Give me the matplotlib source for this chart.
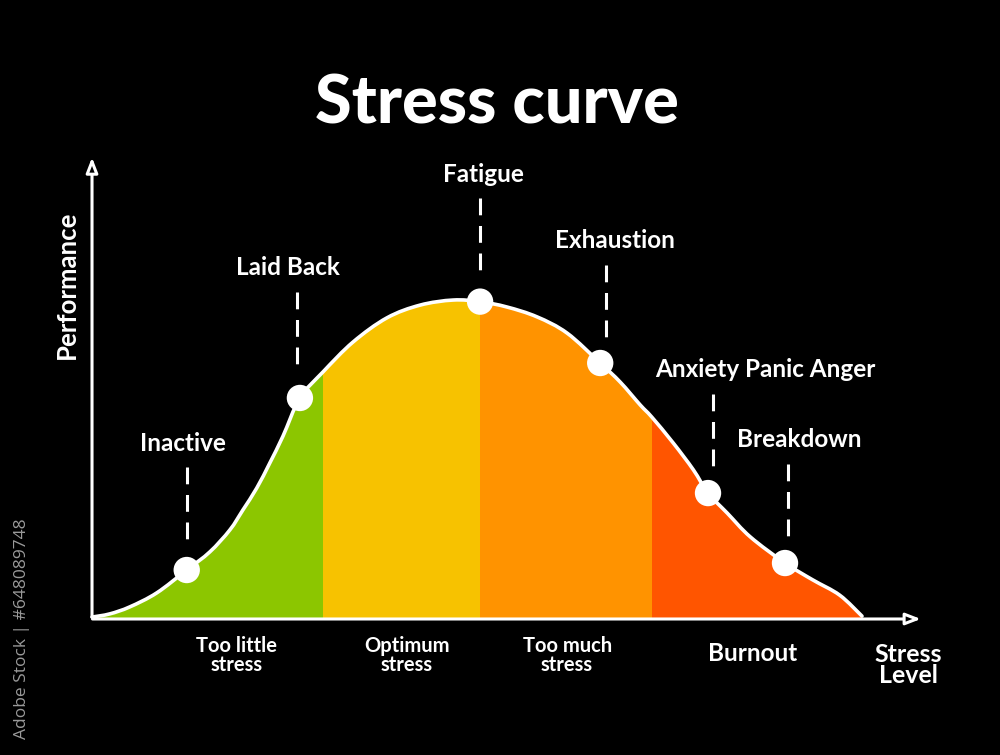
import matplotlib
matplotlib.use("Agg")
import matplotlib.pyplot as plt
from matplotlib.path import Path
from matplotlib.patches import PathPatch
import numpy as np

# ---- data ----
stress = [0, 2.3, 4.9, 8.4, 12.3, 15.3, 17.9, 19.6, 21.4, 23.1, 24.8, 27.0, 30.0,
          33.9, 38.3, 42.6, 46.9, 50.4, 53.9, 57.8, 61.7, 66.0, 68.6, 71.2, 72.7,
          75.5, 78.1, 80.0, 82.5, 85.5, 90.0, 93.6, 97.1, 100]
performance = [0.6, 1.6, 3.8, 8.2, 15.4, 21.1, 28.0, 34.3, 41.2, 49.1, 57.5, 69.5, 77.7,
               87.1, 94.7, 98.7, 100.3, 99.8, 98.1, 95.0, 89.9, 80.5, 74.5, 67.3, 63.5,
               55.3, 46.9, 39.6, 33.3, 25.8, 17.6, 12.3, 7.5, 0.9]

zone_edges = [0, 30.0, 50.4, 72.7, 100]
zone_colors = ["#8CC600", "#F7C200", "#FF9300", "#FF5500"]
zone_names = ["Too little\nstress", "Optimum\nstress", "Too much\nstress", "Burnout"]
zone_label_x = [18.8, 40.9, 61.7, 85.8]

point_names = ["Inactive", "Laid Back", "Fatigue", "Exhaustion",
               "Anxiety Panic Anger", "Breakdown"]
point_x = [12.3, 27.0, 50.4, 66.0, 80.0, 90.0]
point_y = [15.4, 69.5, 99.8, 80.5, 39.6, 17.6]
label_x = [11.8, 25.5, 50.8, 67.9, 87.4, 91.9]
label_y = [55.3, 110.4, 139.9, 118.9, 78.3, 56.3]
dash_x = [12.3, 26.6, 50.4, 66.8, 80.6, 90.4]

FONT = ["Lato", "DejaVu Sans"]
W = "white"


def smooth_curve(xs, ys):
    """Catmull-Rom style Bezier path through the given points."""
    p = np.column_stack([xs, ys]).astype(float)
    n = len(p)
    verts = [p[0]]
    codes = [Path.MOVETO]
    for i in range(n - 1):
        a = p[max(i - 1, 0)]
        d = p[min(i + 2, n - 1)]
        c1 = p[i] + (p[i + 1] - a) / 6.0
        c2 = p[i + 1] - (d - p[i]) / 6.0
        verts += [c1, c2, p[i + 1]]
        codes += [Path.CURVE4] * 3
    return verts, codes


fig = plt.figure(figsize=(10, 7.55), dpi=100, facecolor="black")
ax = fig.add_axes([0, 0, 1, 1])
ax.set_facecolor("black")
ax.set_xlim(-11.95, 117.92)
ax.set_ylim(-42.77, 194.65)
ax.axis("off")

verts, codes = smooth_curve(stress, performance)

# closed region under the curve, used to clip the coloured zones
area_verts = verts + [(stress[-1], 0), (stress[0], 0), (stress[0], 0)]
area_codes = codes + [Path.LINETO, Path.LINETO, Path.CLOSEPOLY]
area = PathPatch(Path(area_verts, area_codes), facecolor="none", edgecolor="none")
ax.add_patch(area)

for a, b, c in zip(zone_edges[:-1], zone_edges[1:], zone_colors):
    poly = ax.fill_between([a, b], 0, 120, color=c, lw=0, zorder=1)
    poly.set_clip_path(area)

# curve outline
ax.add_patch(PathPatch(Path(verts, codes), facecolor="none", edgecolor=W,
                       lw=2.6, zorder=3, capstyle="round"))

# axes arrows
ax.annotate("", xy=(0, 146), xytext=(0, -0.3),
            arrowprops=dict(arrowstyle="-|>,head_length=0.9,head_width=0.35",
                            color=W, lw=2.2, fc="black"), zorder=4)
ax.annotate("", xy=(108, 0), xytext=(-0.3, 0),
            arrowprops=dict(arrowstyle="-|>,head_length=0.9,head_width=0.35",
                            color=W, lw=2.2, fc="black"), zorder=4)

# points, dashed lines and labels
for name, px, py, lx, ly, dx in zip(point_names, point_x, point_y, label_x, label_y, dash_x):
    ax.plot([dx, dx], [ly - 7.5, py + 7.8], color=W, lw=2.2,
            linestyle=(0, (5.5, 3.5)), zorder=2)
    ax.scatter([px], [py], s=360, color=W, zorder=5, edgecolors="none")
    ax.text(lx, ly, name, color=W, fontsize=17.5, fontweight="bold",
            family=FONT, ha="center", va="center")

# zone labels
for name, zx in zip(zone_names, zone_label_x):
    if "\n" in name:
        ax.text(zx, -11.5, name, color=W, fontsize=14.5, fontweight="bold",
                family=FONT, ha="center", va="center", linespacing=0.9)
    else:
        ax.text(zx, -11.0, name, color=W, fontsize=17.5, fontweight="bold",
                family=FONT, ha="center", va="center")

# axis titles
ax.text(-3.3, 105.0, "Performance", color=W, fontsize=18.5, fontweight="bold",
        family=FONT, rotation=90, ha="center", va="center")
ax.text(106, -14.5, "Stress\nLevel", color=W, fontsize=18, fontweight="bold",
        family=FONT, ha="center", va="center", linespacing=0.9)

# title
fig.text(0.497, 0.862, "Stress curve", color=W, fontsize=48, fontweight="black",
         family=FONT, ha="center", va="center")

# side credit
fig.text(0.022, 0.167, "Adobe Stock | #648089748", color="#9a9a9a", fontsize=12.5,
         family=["Open Sans", "DejaVu Sans"], rotation=90, ha="center", va="center")

fig.savefig("out.png", dpi=100, facecolor="black")
